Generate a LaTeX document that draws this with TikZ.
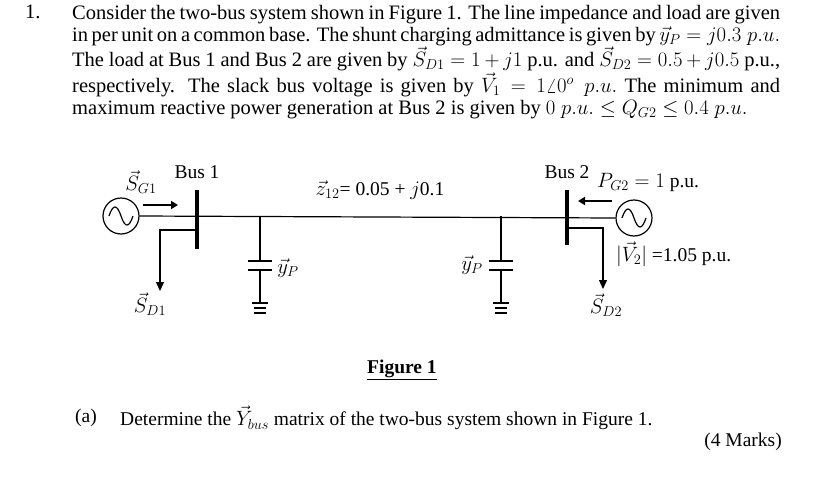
\documentclass[tikz,border=0pt]{standalone}
\usepackage{fontspec}
\setmainfont{Liberation Serif}
\usetikzlibrary{arrows.meta}
\begin{document}
\begin{tikzpicture}[x=1pt,y=-1pt,
  wire/.style={line width=1.2pt},
  bus/.style={line width=3.5pt},
  arr/.style={line width=2.2pt,-{Triangle[length=7pt,width=8pt]}},
  load/.style={line width=1.2pt,-{Triangle[length=9pt,width=8pt]}},
  lbl/.style={font=\fontsize{19.5}{22}\selectfont,inner sep=0pt},
  plate/.style={line width=1.6pt}]
\useasboundingbox (0,0) rectangle (828,490);
\node[lbl,anchor=north west,font=\fontsize{20.5}{22}\selectfont] (num) at (25,5) {1.};
\node[lbl,anchor=north west,text width=708pt,align=justify,font=\fontsize{20.5}{22}\selectfont] (para) at (72,5)
{Consider the two-bus system shown in Figure 1. The line impedance and load are given\linebreak in per unit on a common base. The shunt charging admittance is given by $\vec{y}_P=j0.3\;p.u.$\linebreak The load at Bus 1 and Bus 2 are given by $\vec{S}_{D1}=1+j1$ p.u. and $\vec{S}_{D2}=0.5+j0.5$ p.u.,\linebreak respectively. The slack bus voltage is given by $\vec{V}_1=1\angle0^o\;p.u.$ The minimum and\linebreak maximum reactive power generation at Bus 2 is given by $0\;p.u.\le Q_{G2}\le0.4\;p.u.$};
% generators
\node[draw,circle,line width=1.2pt,minimum size=36pt,inner sep=0pt] (g1) at (121,216) {};
\draw[line width=1.2pt] (109,216) .. controls (113,204) and (117,204) .. (121,216) .. controls (125,228) and (129,228) .. (133,216);
\node[draw,circle,line width=1.2pt,minimum size=36pt,inner sep=0pt] (g2) at (634,218) {};
\draw[line width=1.2pt] (622,218) .. controls (626,206) and (630,206) .. (634,218) .. controls (638,230) and (642,230) .. (646,218);
% buses
\coordinate (b1t) at (197,190); \coordinate (b1b) at (197,249);
\draw[bus] (b1t) -- (b1b);
\coordinate (b2t) at (567,190); \coordinate (b2b) at (567,245);
\draw[bus] (b2t) -- (b2b);
% line
\draw[wire] (g1.east) -- (g2.west);
% gen arrows
\coordinate (a1s) at (143,205); \coordinate (a1e) at (178,205);
\draw[arr] (a1s) -- (a1e);
\coordinate (a2s) at (612,201); \coordinate (a2e) at (578,201);
\draw[arr] (a2s) -- (a2e);
% loads
\coordinate (l1a) at (197,230); \coordinate (l1b) at (160,230); \coordinate (l1c) at (160,291);
\draw[load] (l1a) -- (l1b) -- (l1c);
\coordinate (l2a) at (567,228); \coordinate (l2b) at (603,228); \coordinate (l2c) at (603,289);
\draw[load] (l2a) -- (l2b) -- (l2c);
% capacitors
\foreach \cx in {260,501}{
  \draw[wire] (\cx,216) -- (\cx,261);
  \draw[plate] (\cx-12,261) -- (\cx+12,261);
  \draw[plate] (\cx-12,270) -- (\cx+12,270);
  \draw[wire] (\cx,270) -- (\cx,303);
  \draw[line width=1.2pt] (\cx-8,303) -- (\cx+8,303);
  \draw[line width=1.2pt] (\cx-6,308) -- (\cx+6,308);
  \draw[line width=1.2pt] (\cx-6,313) -- (\cx+6,313);
}
% labels
\node[lbl] (sg1) at (141,182) {$\vec{S}_{G1}$};
\node[lbl] (bus1) at (197,172) {Bus 1};
\node[lbl] (sd1) at (150,304) {$\vec{S}_{D1}$};
\node[lbl] (yp1) at (288,268) {$\vec{y}_P$};
\node[lbl] (z12) at (380,190) {$\vec{z}_{12}$= 0.05 + $j$0.1};
\node[lbl] (yp2) at (472,265) {$\vec{y}_P$};
\node[lbl] (bus2) at (567,172) {Bus 2};
\node[lbl,anchor=west] (pg2) at (597,182) {$P_{G2}=1$ p.u.};
\node[lbl,anchor=west] (v2) at (616,254) {$|\vec{V}_2|$ =1.05 p.u.};
\node[lbl] (sd2) at (606,305) {$\vec{S}_{D2}$};
\node[lbl,font=\bfseries\fontsize{19.5}{22}\selectfont] (fig) at (402,370) {\underline{Figure 1}};
\node[lbl,anchor=west] (qa) at (75,418) {(a)};
\node[lbl,anchor=west] (qt) at (120,418) {Determine the $\vec{Y}_{bus}$ matrix of the two-bus system shown in Figure 1.};
\node[lbl,anchor=east] (mk) at (782,442) {(4 Marks)};
\end{tikzpicture}
\end{document}
